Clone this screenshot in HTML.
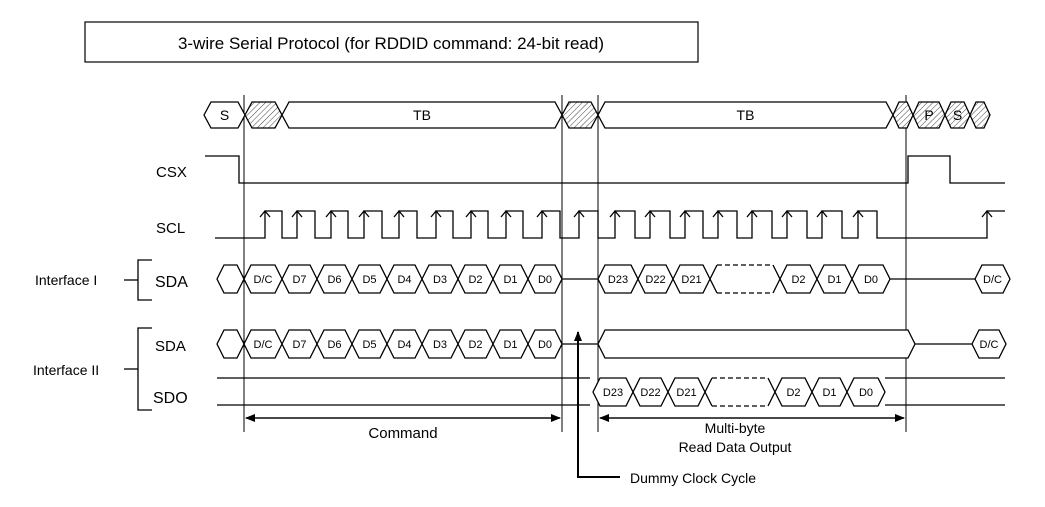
<!DOCTYPE html>
<html><head><meta charset="utf-8"><style>
html,body{margin:0;padding:0;background:#fff;}
svg{display:block;font-family:"Liberation Sans",sans-serif;}
</style></head><body>
<svg id="s" width="1045" height="507" viewBox="0 0 1045 507" xmlns="http://www.w3.org/2000/svg">
<defs>
<pattern id="h" width="4" height="4" patternUnits="userSpaceOnUse" patternTransform="rotate(45)">
<rect width="4" height="4" fill="#fff"/><line x1="0" y1="0" x2="0" y2="4" stroke="#444" stroke-width="1"/>
</pattern>
<marker id="a" markerWidth="10" markerHeight="8" refX="9" refY="4" orient="auto" markerUnits="userSpaceOnUse"><path d="M0,0 L10,4 L0,8 z" fill="#000"/></marker>
</defs>
<rect x="85" y="22" width="613" height="40" fill="#fff" stroke="#000" stroke-width="1.2"/>
<text x="391" y="49" font-size="17" text-anchor="middle">3-wire Serial Protocol (for RDDID command: 24-bit read)</text>
<g id="g" fill="none" stroke="#000" stroke-width="1.3"></g>
<g font-size="15">
<text x="156" y="177">CSX</text>
<text x="156" y="233">SCL</text>
<text x="35" y="285" font-size="14">Interface I</text>
<text x="155" y="287" font-size="16">SDA</text>
<text x="155" y="351">SDA</text>
<text x="33" y="375" font-size="14">Interface II</text>
<text x="153" y="403" font-size="16">SDO</text>
<text x="403" y="438" text-anchor="middle">Command</text>
<text x="735" y="433" text-anchor="middle" font-size="14">Multi-byte</text>
<text x="735" y="452" text-anchor="middle" font-size="14">Read Data Output</text>
<text x="630" y="483" font-size="14">Dummy Clock Cycle</text>
</g>
</svg>
<script>
var g=document.getElementById('g'),NS='http://www.w3.org/2000/svg',svg=document.getElementById('s');
function el(t,a,p){var e=document.createElementNS(NS,t);for(var k in a)e.setAttribute(k,a[k]);(p||g).appendChild(e);return e;}
function txt(x,y,s,fs){var e=el('text',{x:x,y:y,'font-size':fs,'text-anchor':'middle',fill:'#000',stroke:'none'},svg);e.textContent=s;}
function hex(x1,x2,yc,h,s,fill,lab,fs,dash){
 var p=[[x1,yc],[x1+s,yc-h],[x2-s,yc-h],[x2,yc],[x2-s,yc+h],[x1+s,yc+h]].map(function(q){return q.join(',')}).join(' ');
 if(dash){el('polyline',{points:x1+','+yc+' '+(x1+s)+','+(yc-h)});el('polyline',{points:x1+','+yc+' '+(x1+s)+','+(yc+h)});
  el('polyline',{points:x2+','+yc+' '+(x2-s)+','+(yc-h)});el('polyline',{points:x2+','+yc+' '+(x2-s)+','+(yc+h)});
  el('line',{x1:x1+s,y1:yc-h,x2:x2-s,y2:yc-h,'stroke-dasharray':'5,3'});el('line',{x1:x1+s,y1:yc+h,x2:x2-s,y2:yc+h,'stroke-dasharray':'5,3'});return;}
 el('polygon',{points:p,fill:fill||'#fff'});
 if(lab)txt((x1+x2)/2,yc+(fs||11)*0.37,lab,fs||11);
}
function line(pts,extra){var a={points:pts};for(var k in extra)a[k]=extra[k];el('polyline',a);}
// vertical guide lines
[[244,95,432],[562,95,432],[598,95,432],[906,95,432]].forEach(function(v){el('line',{x1:v[0],y1:v[1],x2:v[0],y2:v[2],'stroke-width':1});});
// top row
hex(204,245,115,13,7,'#fff','S',14);
hex(245,282,115,13,7,'url(#h)');
hex(282,562,115,13,7,'#fff','TB',14);
hex(562,598,115,13,7,'url(#h)');
hex(598,893,115,13,7,'#fff','TB',14);
hex(893,913,115,13,6,'url(#h)');
hex(913,945,115,13,6,'url(#h)','P',14);
hex(945,970,115,13,6,'url(#h)','S',14);
hex(970,990,115,13,6,'url(#h)');
// CSX
line('205,156 239,156 239,183 908,183 908,156 950,156 950,183 1005,183');
// SCL
var rises=[265,297,331,364,399,436,471,506,542,579,615,650,685,718,752,787,822,858];
var falls=[282,315,348,382,417,453,488,523,560,598,635,670,703,737,772,807,842,877];
var p='215,238';
for(var i=0;i<rises.length;i++){p+=' '+rises[i]+',238 '+rises[i]+',211 '+falls[i]+',211 '+falls[i]+',238';}
p+=' 987,238 987,211 1005,211';line(p);
rises.concat([987]).forEach(function(x){line((x-5)+',217 '+x+',211 '+(x+5)+',217');});
// data rows
var cmd=[[244,282,'D/C'],[282,317,'D7'],[317,352,'D6'],[352,387,'D5'],[387,422,'D4'],[422,458,'D3'],[458,493,'D2'],[493,528,'D1'],[528,562,'D0']];
function cmdRow(y){hex(217,244,y,14,7);cmd.forEach(function(c){hex(c[0],c[1],y,14,7,'#fff',c[2],11);});line('562,'+y+' 598,'+y);}
function readRow(y,o){var r=[[598,638,'D23'],[638,673,'D22'],[673,710,'D21']];
 r.forEach(function(c){hex(c[0]+o,c[1]+o,y,14,7,'#fff',c[2],11);});
 hex(710+o,780+o,y,14,7,null,null,null,true);
 [[780,817,'D2'],[817,852,'D1'],[852,890,'D0']].forEach(function(c){hex(c[0]+o,c[1]+o,y,14,7,'#fff',c[2],11);});}
cmdRow(279);readRow(279,0);line('890,279 975,279');hex(975,1010,279,14,7,'#fff','D/C',11);
cmdRow(344);hex(598,915,344,14,7);line('915,344 972,344');hex(972,1006,344,14,7,'#fff','D/C',11);
// SDO
line('217,378 590,378');line('217,405 590,405');
readRow(392,-5);line('885,378 1005,378');line('885,405 1005,405');
// Brackets
line('152,260 138,260 138,300 152,300');line('124,280 138,280');
line('152,328 138,328 138,410 152,410');line('124,369 138,369');
// arrows
el('line',{x1:246,y1:418,x2:560,y2:418,'marker-end':'url(#a)','marker-start':'url(#a2)'});
el('line',{x1:560,y1:418,x2:246,y2:418,'marker-end':'url(#a)'});
el('line',{x1:600,y1:418,x2:904,y2:418,'marker-end':'url(#a)'});
el('line',{x1:904,y1:418,x2:600,y2:418,'marker-end':'url(#a)'});
el('polyline',{points:'620,477 578,477 578,332','marker-end':'url(#a)','stroke-width':2});
</script>
</body></html>
